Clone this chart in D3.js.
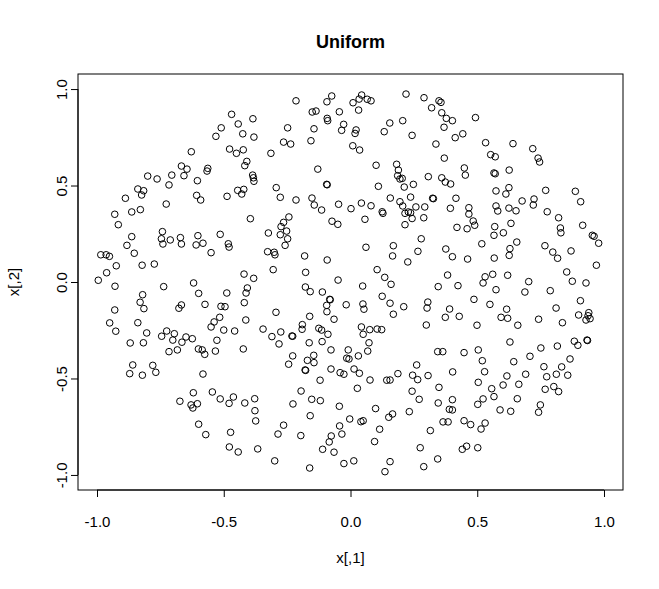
<!DOCTYPE html>
<html>
<head>
<meta charset="utf-8">
<script src="https://cdn.jsdelivr.net/npm/d3@7"></script>
<style>
  body { margin: 0; background: #fff; }
  text { font-family: "Liberation Sans", Arial, Helvetica, sans-serif; }
</style>
</head>
<body>
<div id="chart"></div>
<script>
// points, [x[,1], x[,2]]
var unif = [
[-0.510,0.799],[-0.531,0.755],[-0.628,0.675],[-0.667,0.601],[-0.645,0.585],[-0.563,0.589],[-0.566,0.575],[-0.657,0.551],
[-0.705,0.554],[-0.800,0.549],[-0.763,0.534],[-0.604,0.525],[-0.716,0.503],[-0.839,0.482],[-0.816,0.473],[-0.824,0.451],
[-0.888,0.434],[-0.607,0.449],[-0.591,0.425],[-0.727,0.404],[-0.829,0.375],[-0.863,0.363],[-0.930,0.351],
[-0.215,0.939],[-0.074,0.964],[-0.093,0.934],[-0.469,0.869],[-0.151,0.881],[-0.136,0.886],[-0.044,0.882],[-0.385,0.846],
[-0.443,0.819],[-0.092,0.848],[-0.090,0.836],[-0.027,0.817],[-0.035,0.786],[-0.248,0.799],[-0.144,0.794],[-0.425,0.768],
[-0.381,0.751],[-0.264,0.725],[-0.236,0.715],[-0.156,0.732],[-0.477,0.689],[-0.450,0.667],[-0.423,0.685],[-0.314,0.667],
[-0.409,0.625],[-0.417,0.603],[-0.129,0.585],[-0.386,0.554],[-0.383,0.540],[-0.381,0.522],[-0.094,0.506],[-0.092,0.504],
[-0.293,0.489],[-0.445,0.475],[-0.421,0.480],[-0.429,0.456],[-0.487,0.444],[-0.277,0.439],[-0.215,0.425],[-0.152,0.435],
[-0.143,0.399],[-0.114,0.373],[-0.047,0.403],
[0.010,0.929],[0.034,0.948],[0.044,0.969],[0.066,0.947],[0.081,0.939],[0.032,0.891],[0.219,0.974],[0.290,0.955],
[0.349,0.939],[0.357,0.931],[0.320,0.903],[0.360,0.877],[0.378,0.848],[0.402,0.836],[0.493,0.852],[0.155,0.824],
[0.206,0.836],[0.369,0.802],[0.022,0.788],[0.018,0.770],[0.133,0.779],[0.243,0.760],[0.443,0.768],[0.413,0.748],
[0.337,0.715],[0.009,0.706],[0.036,0.684],[0.370,0.642],[0.101,0.605],[0.182,0.610],[0.189,0.580],[0.186,0.551],
[0.195,0.534],[0.204,0.537],[0.449,0.591],[0.453,0.554],[0.307,0.546],[0.360,0.540],[0.374,0.518],[0.395,0.508],
[0.110,0.496],[0.212,0.492],[0.248,0.506],[0.157,0.435],[0.237,0.440],[0.324,0.434],[0.327,0.432],[0.416,0.434],
[0.195,0.416],[0.206,0.394],[0.002,0.380],[0.043,0.409],[0.081,0.395],[0.125,0.364],[0.128,0.356],[0.258,0.389],
[0.293,0.389],[0.394,0.382],[0.467,0.385],[0.467,0.352],[0.228,0.363],[0.237,0.359],[0.215,0.356],
[0.533,0.722],[0.641,0.717],[0.719,0.691],[0.553,0.660],[0.571,0.649],[0.740,0.642],[0.746,0.622],[0.626,0.580],
[0.566,0.565],[0.571,0.561],[0.574,0.472],[0.625,0.489],[0.613,0.456],[0.770,0.475],[0.887,0.470],[0.908,0.416],
[0.724,0.430],[0.721,0.399],[0.677,0.420],[0.574,0.394],[0.581,0.368],[0.625,0.383],[0.653,0.369],[0.776,0.364],
[-0.916,0.297],[-0.742,0.261],[-0.746,0.224],[-0.740,0.197],[-0.711,0.218],[-0.671,0.230],[-0.667,0.197],[-0.602,0.240],
[-0.609,0.192],[-0.582,0.201],[-0.863,0.235],[-0.882,0.190],[-0.853,0.149],[-0.550,0.152],[-0.985,0.141],[-0.964,0.141],
[-0.951,0.133],[-0.924,0.084],[-0.822,0.087],[-0.774,0.093],[-0.962,0.048],[-0.995,0.009],[-0.929,-0.022],[-0.737,-0.024],
[-0.619,-0.005],[-0.599,-0.059],[-0.820,-0.066],[-0.830,-0.105],[-0.815,-0.138],[-0.667,-0.119],[-0.677,-0.136],[-0.574,-0.116],
[-0.930,-0.145],[-0.950,-0.212],[-0.926,-0.255],[-0.839,-0.211],[-0.804,-0.264],[-0.869,-0.316],[-0.817,-0.315],[-0.725,-0.254],
[-0.695,-0.268],[-0.701,-0.301],[-0.745,-0.281],[-0.665,-0.312],[-0.649,-0.285],[-0.624,-0.294],[-0.516,-0.183],[-0.538,-0.207],
[-0.550,-0.233],[-0.527,-0.302],
[-0.395,0.328],[-0.243,0.337],[-0.264,0.309],[-0.274,0.287],[-0.252,0.264],[-0.277,0.245],[-0.248,0.224],[-0.258,0.190],
[-0.324,0.254],[-0.514,0.247],[-0.482,0.198],[-0.479,0.181],[-0.327,0.157],[-0.301,0.154],[-0.298,0.141],[-0.073,0.315],
[-0.050,0.299],[-0.181,0.135],[-0.092,0.114],[-0.305,0.064],[-0.420,0.041],[-0.382,0.019],[-0.177,0.050],[-0.049,0.010],
[-0.407,-0.031],[-0.412,-0.057],[-0.488,-0.057],[-0.178,-0.026],[-0.159,-0.050],[-0.111,-0.052],[-0.082,-0.090],[-0.080,-0.092],
[-0.094,-0.121],[-0.093,-0.154],[-0.419,-0.107],[-0.511,-0.126],[-0.495,-0.128],[-0.294,-0.157],[-0.161,-0.178],[-0.413,-0.197],
[-0.065,-0.193],[-0.500,-0.249],[-0.457,-0.254],[-0.345,-0.244],[-0.275,-0.259],[-0.190,-0.221],[-0.191,-0.245],[-0.125,-0.240],
[-0.114,-0.249],[-0.089,-0.271],[-0.310,-0.283],[-0.231,-0.280],[-0.228,-0.281],[-0.163,-0.315],[-0.112,-0.309],[-0.282,-0.321],
[0.057,0.325],[0.243,0.329],[0.289,0.333],[0.215,0.297],[0.484,0.316],[0.490,0.294],[0.460,0.276],[0.420,0.283],
[0.279,0.224],[0.061,0.180],[0.169,0.188],[0.166,0.135],[0.266,0.159],[0.226,0.104],[0.376,0.171],[0.402,0.131],
[0.462,0.119],[0.105,0.064],[0.135,0.024],[0.160,-0.012],[0.048,-0.021],[0.383,0.036],[0.346,-0.024],[0.424,-0.019],
[-0.017,-0.118],[0.049,-0.114],[0.053,-0.141],[0.125,-0.074],[0.156,-0.110],[0.210,-0.128],[0.169,-0.167],[0.305,-0.104],
[0.302,-0.135],[0.391,-0.140],[0.374,-0.183],[0.429,-0.178],[0.487,-0.090],[0.299,-0.223],[0.043,-0.233],[0.050,-0.271],
[0.076,-0.247],[0.105,-0.244],[0.123,-0.247],[0.073,-0.315],
[0.569,0.287],[0.566,0.242],[0.603,0.255],[0.633,0.304],[0.821,0.333],[0.828,0.280],[0.830,0.255],[0.916,0.294],
[0.954,0.242],[0.961,0.237],[0.979,0.201],[0.518,0.198],[0.656,0.207],[0.629,0.173],[0.626,0.138],[0.767,0.188],
[0.798,0.155],[0.817,0.123],[0.870,0.161],[0.567,0.124],[0.970,0.087],[0.853,0.052],[0.875,0.004],[0.929,-0.005],
[0.561,0.040],[0.531,0.027],[0.523,-0.005],[0.620,0.035],[0.703,0.002],[0.574,-0.040],[0.688,-0.052],[0.788,-0.045],
[0.907,-0.097],[0.550,-0.116],[0.811,-0.135],[0.616,-0.141],[0.594,-0.183],[0.620,-0.188],[0.742,-0.193],[0.836,-0.211],
[0.900,-0.171],[0.940,-0.159],[0.937,-0.175],[0.945,-0.190],[0.929,-0.197],[0.660,-0.224],[0.499,-0.224],[0.883,-0.307],
[0.897,-0.328],[0.933,-0.301],[0.935,-0.303],[0.629,-0.311],[0.816,-0.332],
[-0.716,-0.361],[-0.683,-0.352],[-0.600,-0.347],[-0.585,-0.352],[-0.575,-0.375],[-0.533,-0.358],[-0.859,-0.430],[-0.871,-0.475],
[-0.821,-0.483],[-0.780,-0.432],[-0.768,-0.468],[-0.582,-0.477],[-0.620,-0.574],[-0.545,-0.570],[-0.673,-0.618],[-0.629,-0.637],
[-0.622,-0.653],[-0.604,-0.631],[-0.599,-0.737],[-0.571,-0.791],
[-0.423,-0.347],[-0.077,-0.352],[-0.228,-0.383],[-0.244,-0.426],[-0.170,-0.406],[-0.145,-0.380],[-0.144,-0.418],[-0.179,-0.456],
[-0.177,-0.458],[-0.077,-0.451],[-0.041,-0.470],[-0.026,-0.478],[-0.120,-0.509],[-0.195,-0.565],[-0.514,-0.606],[-0.462,-0.596],
[-0.479,-0.629],[-0.417,-0.627],[-0.378,-0.605],[-0.377,-0.667],[-0.374,-0.720],[-0.227,-0.632],[-0.153,-0.608],[-0.119,-0.615],
[-0.044,-0.644],[-0.159,-0.693],[-0.264,-0.742],[-0.286,-0.788],[-0.196,-0.796],[-0.043,-0.746],[-0.034,-0.788],[-0.076,-0.798],
[-0.084,-0.829],[-0.473,-0.779],[-0.478,-0.855],[-0.443,-0.881],[-0.366,-0.865],[-0.110,-0.867],[-0.065,-0.882],[-0.299,-0.927],
[-0.161,-0.964],[-0.026,-0.941],
[-0.009,-0.352],[-0.015,-0.395],[-0.006,-0.399],[0.031,-0.383],[0.068,-0.358],[0.014,-0.451],[0.035,-0.473],[0.027,-0.551],
[0.077,-0.508],[0.143,-0.509],[0.156,-0.508],[0.187,-0.475],[0.261,-0.430],[0.245,-0.483],[0.265,-0.506],[0.306,-0.485],
[0.344,-0.361],[0.364,-0.361],[0.448,-0.366],[0.403,-0.466],[0.349,-0.546],[0.243,-0.566],[0.271,-0.608],[0.402,-0.610],
[0.346,-0.627],[0.390,-0.660],[0.402,-0.663],[0.099,-0.656],[0.232,-0.672],[0.166,-0.684],[0.151,-0.701],[-0.003,-0.710],
[0.041,-0.724],[0.050,-0.719],[0.115,-0.763],[0.095,-0.827],[0.365,-0.725],[0.385,-0.725],[0.448,-0.719],[0.474,-0.739],
[0.315,-0.770],[0.275,-0.859],[0.441,-0.867],[0.458,-0.851],[0.013,-0.927],[0.156,-0.931],[0.136,-0.983],[0.289,-0.957],
[0.344,-0.917],
[0.504,-0.352],[0.520,-0.408],[0.529,-0.465],[0.504,-0.520],[0.557,-0.553],[0.523,-0.606],[0.502,-0.634],[0.566,-0.594],
[0.602,-0.534],[0.617,-0.487],[0.644,-0.413],[0.664,-0.530],[0.658,-0.605],[0.691,-0.478],[0.708,-0.385],[0.751,-0.342],
[0.763,-0.439],[0.774,-0.491],[0.833,-0.440],[0.866,-0.399],[0.812,-0.478],[0.857,-0.483],[0.768,-0.556],[0.802,-0.542],
[0.821,-0.568],[0.590,-0.663],[0.632,-0.670],[0.749,-0.637],[0.742,-0.675],[0.531,-0.731],[0.515,-0.762],[0.502,-0.859]
];

var tickVals = [-1, -0.5, 0, 0.5, 1];
var tickLabels = ["-1.0", "-0.5", "0.0", "0.5", "1.0"];
var mainTitle = "Uniform";
var xLabel = "x[,1]";
var yLabel = "x[,2]";

function init(){

var w = 659;
var h = 589;
var left = 78, right = 623, top = 74, bottom = 490;

  var xScale = d3.scaleLinear()
                  .domain([-1.075, 1.075])
                  .range([left, right]);
  var yScale = d3.scaleLinear()
                  .domain([-1.078, 1.078])
                  .range([bottom, top]);

  var svg = d3.select("#chart")
    .append("svg")
    .attr("width", w)
    .attr("height", h);

  // points, R pch = 1
  svg.selectAll("circle")
    .data(unif)
    .enter()
    .append("circle")
    .attr("cx", function(d) { return xScale(d[0]); })
    .attr("cy", function(d) { return yScale(d[1]); })
    .attr("r", 3.3)
    .attr("fill", "none")
    .attr("stroke", "black")
    .attr("stroke-width", 1);

  // box
  svg.append("rect")
    .attr("x", left)
    .attr("y", top)
    .attr("width", right - left)
    .attr("height", bottom - top)
    .attr("fill", "none")
    .attr("stroke", "black")
    .attr("stroke-width", 1);

  var xAxis = d3.axisBottom(xScale)
                .tickValues(tickVals)
                .tickFormat(function(d, i) { return tickLabels[i]; })
                .tickSize(7)
                .tickSizeOuter(0)
                .tickPadding(19);
  var yAxis = d3.axisLeft(yScale)
                .tickValues(tickVals)
                .tickFormat(function(d, i) { return tickLabels[i]; })
                .tickSize(7)
                .tickSizeOuter(0);

  //xAxis
  var gx = svg.append("g")
      .attr("transform", "translate(0," + bottom + ")")
      .call(xAxis);
  gx.select(".domain")
      .attr("d", "M" + xScale(-1) + ",0H" + xScale(1));
  gx.selectAll("text")
      .attr("font-size", 15)
      .attr("font-family", null)
      .attr("fill", "black");

  //yAxis
  var gy = svg.append("g")
      .attr("transform", "translate(" + left + ",0)")
      .call(yAxis);
  gy.select(".domain")
      .attr("d", "M0," + yScale(-1) + "V" + yScale(1));
  gy.selectAll("text")
      .attr("transform", "rotate(-90)")
      .attr("x", 0)
      .attr("y", -11)
      .attr("dy", 0)
      .attr("text-anchor", "middle")
      .attr("font-size", 15)
      .attr("font-family", null)
      .attr("fill", "black");
  svg.selectAll(".tick line").attr("stroke", "black");
  svg.selectAll(".domain").attr("stroke", "black");

  // titles
  svg.append("text")
    .attr("x", (left + right) / 2)
    .attr("y", 48)
    .attr("text-anchor", "middle")
    .attr("font-size", 18)
    .attr("font-weight", "bold")
    .text(mainTitle);

  svg.append("text")
    .attr("x", (left + right) / 2)
    .attr("y", 563)
    .attr("text-anchor", "middle")
    .attr("font-size", 15)
    .text(xLabel);

  svg.append("text")
    .attr("transform", "translate(19," + (top + bottom) / 2 + ") rotate(-90)")
    .attr("text-anchor", "middle")
    .attr("font-size", 15)
    .text(yLabel);
}

window.onload = init;
</script>
</body>
</html>
